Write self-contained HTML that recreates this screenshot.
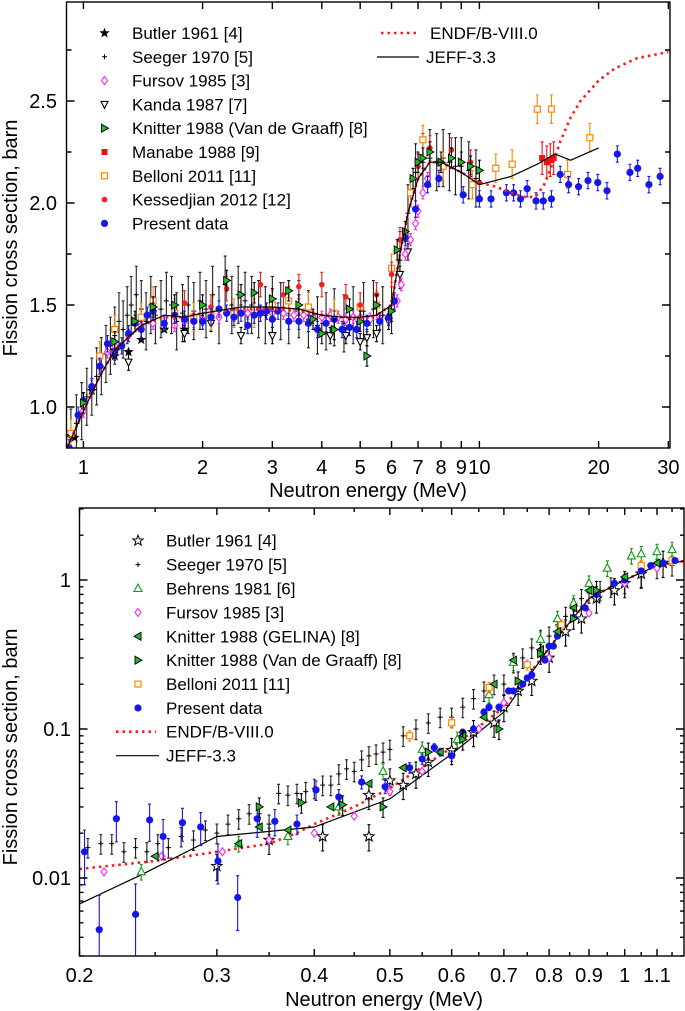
<!DOCTYPE html>
<html><head><meta charset="utf-8">
<style>
html,body{margin:0;padding:0;background:#fff;}
svg{display:block;font-family:"Liberation Sans",sans-serif;}
</style></head>
<body>
<svg id="chart" width="685" height="1011" viewBox="0 0 685 1011" xmlns="http://www.w3.org/2000/svg">
<defs>
<clipPath id="clipTop"><rect x="66.5" y="2" width="603.5" height="446"/></clipPath>
<clipPath id="clipBot"><rect x="79.5" y="508" width="604.5" height="448"/></clipPath>
</defs>
<g id="topPanel"></g>
<g id="botPanel"></g>
</svg>
<script>
// ===== TOP PANEL DATA (E in MeV, sigma in barn) =====
const topXTicks = [1,2,3,4,5,6,7,8,9,10,20,30];
const topXTickLabels = ["1","2","3","4","5","6","7","8","9","10","20","30"];
const topYTicks = [1.0,1.5,2.0,2.5];
const topYTickLabels = ["1.0","1.5","2.0","2.5"];
const topYMinor = [1.25,1.75,2.25,2.75];

const tPresentE = [0.92,0.97,1.0,1.05,1.1,1.15,1.2,1.25,1.3,1.35,1.4,1.45,1.5,1.6,1.7,1.8,1.9,2.0,2.1,2.2,2.3,2.4,2.5,2.6,2.7,2.8,2.9,3.0,3.1,3.3,3.5,3.7,3.9,4.1,4.3,4.5,4.7,4.9,5.2,5.6,5.9,6.1,6.5,6.9,7.4,7.9,9.1,10.0,10.7,11.7,12.2,12.7,13.2,13.9,14.5,15.2,16.0,16.8,17.8,18.8,19.9,21.0,22.3,24.0,25.1,26.8,28.6];
const tPresentS = [0.80,0.96,1.03,1.10,1.20,1.31,1.27,1.30,1.36,1.41,1.38,1.45,1.47,1.41,1.45,1.43,1.42,1.42,1.44,1.48,1.46,1.44,1.46,1.40,1.45,1.46,1.47,1.43,1.47,1.42,1.42,1.41,1.38,1.41,1.43,1.38,1.39,1.38,1.41,1.42,1.44,1.52,1.83,1.97,2.09,2.12,2.04,2.02,2.02,2.05,2.05,2.02,2.07,2.01,2.01,2.02,2.14,2.09,2.08,2.11,2.10,2.06,2.24,2.15,2.17,2.09,2.13];
const tPresentErr = 0.04;

const tKessE = [1.8,2.1,2.3,2.8,3.2,3.5,4.0,4.6,5.0,5.5,6.0,6.3,7.0,7.5,8.5,9.5,10.0];
const tKessS = [1.51,1.49,1.58,1.60,1.55,1.59,1.60,1.54,1.50,1.55,1.65,1.82,2.18,2.27,2.26,2.20,2.10];
const tKessErr = 0.06;

const tManabeE = [14.4,14.8,15.1,15.4];
const tManabeS = [2.22,2.20,2.21,2.22];
const tManabeErr = 0.08;

const tBelloniE = [0.93,1.1,1.2,1.4,1.5,1.7,1.9,2.1,2.4,2.7,3.0,3.3,3.7,4.3,5.0,5.5,6.0,6.7,7.2,8.1,9.6,11.0,12.1,14.0,15.2,16.7,19.0];
const tBelloniS = [0.87,1.25,1.38,1.44,1.52,1.46,1.44,1.45,1.46,1.46,1.50,1.52,1.49,1.46,1.49,1.50,1.68,2.05,2.31,2.18,2.09,2.17,2.19,2.46,2.46,2.14,2.32];
const tBelloniErr = 0.07;

const tFursovE = [1.0,1.05,1.1,1.15,1.2,1.3,1.4,1.5,1.6,1.7,1.8,1.9,2.0,2.2,2.4,2.6,2.8,3.0,3.2,3.4,3.6,3.8,4.0,4.2,4.4,4.6,4.8,5.0,5.3,5.6,5.9,6.2,6.35,6.5,6.7,6.9,7.0,7.2,7.4];
const tFursovS = [0.98,1.10,1.20,1.27,1.30,1.35,1.40,1.41,1.41,1.40,1.42,1.42,1.43,1.44,1.45,1.46,1.47,1.46,1.46,1.45,1.45,1.44,1.44,1.45,1.44,1.43,1.44,1.44,1.43,1.43,1.44,1.52,1.60,1.75,1.82,1.90,1.96,2.05,2.12];
const tFursovErr = 0.03;

const tKandaE = [1.2,1.3,1.8,2.1,2.5,3.0,4.2,4.6,5.0,5.2,5.5,5.9,6.3,6.6];
const tKandaS = [1.27,1.22,1.36,1.41,1.35,1.35,1.35,1.35,1.32,1.34,1.36,1.42,1.65,1.76];
const tKandaErr = 0.04;

const tKnitE = [0.9,1.0,1.2,1.35,1.5,1.7,2.0,2.3,2.5,2.7,3.0,3.3,3.5,3.8,4.0,4.3,4.7,5.0,5.2,5.5,6.0,6.2,6.5,6.8,7.0,7.2,7.5,8.0,8.5,9.0,9.5,10.0];
const tKnitS = [0.86,1.02,1.32,1.42,1.49,1.50,1.50,1.62,1.55,1.56,1.53,1.57,1.50,1.43,1.36,1.38,1.48,1.42,1.25,1.50,1.47,1.77,1.86,2.12,2.20,2.22,2.25,2.20,2.22,2.20,2.18,2.16];
const tKnitErr = 0.05;

const tButlerE = [0.95,1.05,1.2,1.3,1.4,1.6,1.8];
const tButlerS = [0.85,1.08,1.25,1.27,1.33,1.38,1.38];

const tSeegerE = [0.93,0.96,0.99,1.02,1.05,1.08,1.11,1.14,1.17,1.2,1.23,1.26,1.29,1.32,1.36,1.4,1.44,1.48,1.52,1.57,1.62,1.67,1.72,1.78,1.84,1.9,1.97,2.04,2.12,2.2,2.28,2.37,2.46,2.56,2.66,2.77,2.88,3.0,3.15,3.3,3.5,3.7,3.9,4.1,4.3,4.55,4.8,5.1,5.4,5.7,6.0,6.3,6.6,6.9,7.2,7.5,7.8,8.1,8.4,8.7,9.0,9.4,9.8];
const tSeegerS = [0.85,0.92,0.98,1.05,1.10,1.15,1.20,1.26,1.30,1.35,1.42,1.38,1.45,1.50,1.55,1.48,1.42,1.50,1.45,1.48,1.52,1.50,1.42,1.46,1.50,1.47,1.52,1.48,1.55,1.45,1.60,1.50,1.55,1.52,1.50,1.48,1.45,1.50,1.47,1.45,1.48,1.43,1.40,1.42,1.44,1.41,1.45,1.47,1.48,1.45,1.50,1.72,1.95,2.15,2.20,2.22,2.20,2.22,2.20,2.18,2.18,2.16,2.12];
const tSeegerErr = 0.14;

const tJeffE = [0.9,1.0,1.1,1.2,1.4,1.6,1.8,2.0,2.5,3.0,3.5,4.0,4.5,5.0,5.5,6.0,6.3,6.6,7.0,7.5,8.0,9.0,10.0,12.0,14.0,15.5,17.0,20.0];
const tJeffS = [0.78,0.98,1.15,1.28,1.40,1.45,1.44,1.46,1.49,1.49,1.48,1.45,1.44,1.44,1.45,1.50,1.75,1.95,2.12,2.20,2.20,2.15,2.09,2.13,2.19,2.24,2.21,2.27];
const tEndfE = [0.9,1.0,1.1,1.2,1.4,1.6,1.8,2.0,2.5,3.0,3.5,4.0,4.5,5.0,5.5,6.0,6.3,6.6,7.0,7.5,8.0,9.0,10.0,11.0,12.0,13.0,13.8,14.5,15.0,15.5,16.0,17.0,18.0,20.0,22.0,25.0,30.0];
const tEndfS = [0.78,0.98,1.15,1.28,1.40,1.44,1.44,1.46,1.48,1.48,1.47,1.45,1.44,1.43,1.45,1.50,1.75,1.95,2.12,2.20,2.20,2.15,2.10,2.08,2.05,2.03,2.03,2.08,2.15,2.22,2.30,2.42,2.50,2.60,2.66,2.71,2.74];

// ===== BOTTOM PANEL DATA =====
const botXTicks = [0.2,0.3,0.4,0.5,0.6,0.7,0.8,0.9,1.0,1.1];
const botXTickLabels = ["0.2","0.3","0.4","0.5","0.6","0.7","0.8","0.9","1","1.1"];
const botXMinor = [0.25,0.35,0.45,0.55,0.65,0.75,0.85,0.95,1.05,1.15];
const botYTicks = [0.01,0.1,1];
const botYTickLabels = ["0.01","0.1","1"];

const bPresentE = [0.203,0.212,0.223,0.236,0.246,0.256,0.271,0.286,0.301,0.319,0.338,0.356,0.38,0.402,0.43,0.46,0.493,0.53,0.55,0.57,0.58,0.6,0.62,0.64,0.66,0.67,0.69,0.71,0.72,0.74,0.75,0.76,0.79,0.8,0.81,0.82,0.86,0.89,0.92,0.97,1.0,1.05,1.08,1.12,1.16];
const bPresentS = [0.015,0.0045,0.025,0.0057,0.0245,0.019,0.0235,0.022,0.013,0.0074,0.025,0.024,0.023,0.039,0.035,0.044,0.041,0.055,0.063,0.075,0.07,0.066,0.095,0.1,0.13,0.14,0.14,0.18,0.18,0.2,0.22,0.23,0.29,0.36,0.36,0.42,0.56,0.65,0.8,0.95,1.0,1.15,1.25,1.3,1.35];
const bPresentRelErr = [0.4,0.7,0.3,0.6,0.28,0.3,0.25,0.25,0.3,0.4,0.25,0.2,0.15,0.15,0.12,0.1,0.1,0.08,0.08,0.06,0.06,0.08,0.05,0.05,0.05,0.05,0.05,0.04,0.04,0.04,0.04,0.04,0.04,0.03,0.03,0.03,0.03,0.03,0.03,0.03,0.03,0.03,0.03,0.03,0.03];

const bSeegerE = [0.205,0.213,0.22,0.228,0.236,0.244,0.252,0.26,0.27,0.28,0.29,0.3,0.31,0.32,0.33,0.34,0.35,0.36,0.37,0.38,0.39,0.4,0.41,0.42,0.43,0.44,0.45,0.46,0.47,0.48,0.49,0.5,0.52,0.54,0.56,0.58,0.6,0.62,0.64,0.66,0.68,0.7,0.72,0.74,0.76,0.78,0.8,0.82,0.84,0.86,0.88,0.9,0.93,0.96,1.0,1.05,1.1,1.15];
const bSeegerS = [0.016,0.017,0.017,0.015,0.016,0.015,0.017,0.016,0.019,0.018,0.021,0.02,0.023,0.025,0.027,0.027,0.023,0.037,0.036,0.037,0.038,0.04,0.042,0.042,0.05,0.054,0.052,0.062,0.066,0.068,0.07,0.073,0.09,0.1,0.11,0.12,0.12,0.14,0.16,0.18,0.2,0.2,0.28,0.3,0.35,0.4,0.42,0.5,0.57,0.65,0.75,0.82,0.85,0.9,0.95,1.05,1.2,1.25];
const bSeegerRelErr = 0.15;

const bButlerE = [0.3,0.35,0.41,0.47,0.47,0.5,0.52,0.54,0.56,0.6,0.64,0.68,0.7,0.73,0.76,0.8,0.84,0.88,0.92,0.97,1.0,1.05,1.12];
const bButlerS = [0.012,0.018,0.019,0.019,0.036,0.045,0.042,0.05,0.06,0.072,0.095,0.11,0.14,0.18,0.21,0.3,0.45,0.55,0.75,0.85,0.95,1.1,1.3];
const bButlerRelErr = 0.2;

const bBehrensE = [0.24,0.32,0.37,0.43,0.49,0.55,0.61,0.67,0.72,0.78,0.82,0.86,0.9,0.95,1.02,1.05,1.1,1.15];
const bBehrensS = [0.011,0.017,0.019,0.03,0.052,0.073,0.085,0.17,0.28,0.4,0.55,0.7,0.95,1.2,1.45,1.5,1.55,1.6];
const bBehrensRelErr = 0.12;

const bFursovE = [0.215,0.255,0.305,0.35,0.4,0.45,0.5,0.55,0.65,0.7,0.8,0.9,1.0,1.1];
const bFursovS = [0.011,0.014,0.015,0.018,0.02,0.026,0.038,0.052,0.1,0.15,0.3,0.6,0.95,1.2];

const bGelinaE = [0.25,0.32,0.34,0.37,0.42,0.47,0.52,0.58,0.62,0.66,0.68,0.72,0.78,0.82,0.86,0.9,1.0,1.1];
const bGelinaS = [0.014,0.017,0.022,0.021,0.03,0.043,0.055,0.07,0.09,0.12,0.2,0.29,0.34,0.45,0.65,0.85,1.05,1.3];

const bKnitVdgE = [0.34,0.385,0.435,0.49,0.56,0.62,0.69,0.73,0.78,0.86,0.92];
const bKnitVdgS = [0.03,0.032,0.031,0.03,0.07,0.085,0.1,0.21,0.32,0.55,0.85];
const bKnitVdgRelErr = 0.15;

const bBelloniE = [0.53,0.6,0.67,0.75,0.83,1.05,1.15];
const bBelloniS = [0.09,0.11,0.19,0.27,0.5,1.25,1.35];

const bJeffE = [0.2,0.24,0.3,0.4,0.5,0.6,0.7,0.8,0.9,1.0,1.1,1.2];
const bJeffS = [0.0067,0.0105,0.019,0.022,0.034,0.068,0.13,0.35,0.75,1.0,1.25,1.35];
const bEndfE = [0.2,0.25,0.3,0.35,0.38,0.4,0.45,0.5,0.6,0.7,0.8,0.9,1.0,1.1,1.2];
const bEndfS = [0.0115,0.013,0.015,0.017,0.02,0.023,0.03,0.04,0.075,0.14,0.35,0.75,1.0,1.25,1.35];

// ===== scales =====
const tX = e => 83.4 + 396 * Math.log10(e);
const tY = v => 407 - (v - 1) * 204;
const bX = e => 79.5 + 780 * Math.log10(e / 0.2);
const bY = v => 878 - 149 * Math.log10(v / 0.01);

const NS = "http://www.w3.org/2000/svg";
function mk(tag, attrs, parent) {
  const el = document.createElementNS(NS, tag);
  for (const k in attrs) el.setAttribute(k, attrs[k]);
  parent.appendChild(el);
  return el;
}

function marker(parent, type, cx, cy, color) {
  let el;
  const s = 4;
  if (type === 'circle') el = mk('circle', {cx, cy, r: 3.6, fill: color}, parent);
  else if (type === 'smallcircle') el = mk('circle', {cx, cy, r: 2.8, fill: color}, parent);
  else if (type === 'square') el = mk('rect', {x: cx - 3, y: cy - 3, width: 6, height: 6, fill: color}, parent);
  else if (type === 'osquare') el = mk('rect', {x: cx - 3, y: cy - 3, width: 6, height: 6, fill: '#fff', stroke: color, 'stroke-width': 1.2}, parent);
  else if (type === 'diamond') el = mk('polygon', {points: `${cx},${cy - s} ${cx + 3},${cy} ${cx},${cy + s} ${cx - 3},${cy}`, fill: '#fff', stroke: color, 'stroke-width': 1.1}, parent);
  else if (type === 'tdown') el = mk('polygon', {points: `${cx - 3.5},${cy - 3} ${cx + 3.5},${cy - 3} ${cx},${cy + 4}`, fill: '#fff', stroke: color, 'stroke-width': 1.1}, parent);
  else if (type === 'tup') el = mk('polygon', {points: `${cx - 4},${cy + 3} ${cx + 4},${cy + 3} ${cx},${cy - 4.5}`, fill: '#fff', stroke: color, 'stroke-width': 1.1}, parent);
  else if (type === 'tright') el = mk('polygon', {points: `${cx - 3},${cy - 4} ${cx - 3},${cy + 4} ${cx + 4},${cy}`, fill: '#22bb22', stroke: '#000', 'stroke-width': 0.9}, parent);
  else if (type === 'tleft') el = mk('polygon', {points: `${cx + 3},${cy - 4} ${cx + 3},${cy + 4} ${cx - 4},${cy}`, fill: '#22bb22', stroke: '#000', 'stroke-width': 0.9}, parent);
  else if (type === 'plus') el = mk('path', {d: `M${cx - 2.5},${cy}H${cx + 2.5}M${cx},${cy - 2.5}V${cy + 2.5}`, stroke: color, 'stroke-width': 1}, parent);
  else {
    let pts = [];
    const R = type === 'star' ? 4 : 5.5, r = R * 0.42;
    for (let i = 0; i < 10; i++) {
      const a = -Math.PI / 2 + i * Math.PI / 5, rr = i % 2 ? r : R;
      pts.push((cx + rr * Math.cos(a)).toFixed(2) + ',' + (cy + rr * Math.sin(a)).toFixed(2));
    }
    el = mk('polygon', {points: pts.join(' '), fill: type === 'star' ? color : '#fff', stroke: color, 'stroke-width': 1}, parent);
  }
  return el;
}

function series(parent, name, xs, ys, X, Y, type, color, errAbs, errRel, errColor) {
  const g = mk('g', {}, parent);
  
  
  for (let i = 0; i < xs.length; i++) {
    const cx = X(xs[i]), cy = Y(ys[i]);
    let lo = null, hi = null;
    if (errAbs != null) { lo = Y(ys[i] - errAbs); hi = Y(ys[i] + errAbs); }
    if (errRel != null) {
      const r = Array.isArray(errRel) ? errRel[i] : errRel;
      lo = Y(Math.max(ys[i] * (1 - r), 1e-4)); hi = Y(ys[i] * (1 + r));
    }
    if (lo != null) {
      const eb = mk('path', {d: `M${cx},${lo}V${hi}M${cx - 1.5},${lo}H${cx + 1.5}M${cx - 1.5},${hi}H${cx + 1.5}`, stroke: errColor || color, 'stroke-width': 1.1, fill: 'none'}, g);
      
      
    }
    const m = marker(g, type, cx, cy, color);
    
    
  }
}

function curve(parent, name, xs, ys, X, Y, dotted) {
  const d = xs.map((e, i) => (i ? 'L' : 'M') + X(e).toFixed(1) + ',' + Y(ys[i]).toFixed(1)).join('');
  const p = mk('path', {d, fill: 'none', stroke: dotted ? '#ff1a1a' : '#000', 'stroke-width': dotted ? 2.6 : 1.2, 'stroke-dasharray': dotted ? '2.5,4' : 'none'}, parent);
  
  
}

function text(parent, name, x, y, s, size, anchor, extra) {
  const t = mk('text', Object.assign({x, y, 'font-size': size, 'text-anchor': anchor || 'start', fill: '#000'}, extra || {}), parent);
  t.textContent = s;
  
  
  return t;
}

// ===== TOP PANEL =====
const topG = document.getElementById('topPanel');
const tL = 66.5, tR = 670, tT = 2, tB = 448;
const tPlot = mk('g', {'clip-path': 'url(#clipTop)'}, topG);


series(tPlot, 'series-seeger-1970', tSeegerE, tSeegerS, tX, tY, 'plus', '#000', tSeegerErr, null, '#222');
series(tPlot, 'series-butler-1961', tButlerE, tButlerS, tX, tY, 'star', '#000', null, null);
series(tPlot, 'series-kanda-1987', tKandaE, tKandaS, tX, tY, 'tdown', '#000', tKandaErr, null);
series(tPlot, 'series-fursov-1985', tFursovE, tFursovS, tX, tY, 'diamond', '#ff22ff', tFursovErr, null);
series(tPlot, 'series-belloni-2011', tBelloniE, tBelloniS, tX, tY, 'osquare', '#ff8800', tBelloniErr, null);
series(tPlot, 'series-kessedjian-2012', tKessE, tKessS, tX, tY, 'smallcircle', '#ee2222', tKessErr, null);
series(tPlot, 'series-manabe-1988', tManabeE, tManabeS, tX, tY, 'square', '#ee1111', tManabeErr, null);
series(tPlot, 'series-present-data', tPresentE, tPresentS, tX, tY, 'circle', '#1515ee', tPresentErr, null);
series(tPlot, 'series-knitter-1988-vdg', tKnitE, tKnitS, tX, tY, 'tright', '#000', tKnitErr, null);
curve(tPlot, 'endf-b-viii-curve', tEndfE, tEndfS, tX, tY, true);
curve(tPlot, 'jeff-3-3-curve', tJeffE, tJeffS, tX, tY, false);

const tAx = mk('g', {stroke: '#000', 'stroke-width': 1.4, fill: 'none'}, topG);


mk('rect', {x: tL, y: tT, width: tR - tL, height: tB - tT}, tAx);
topXTicks.forEach((e, i) => {
  const x = tX(e);
  mk('path', {d: `M${x},${tB}v-7M${x},${tT}v7`}, tAx);
  text(topG, 'x-tick-label', x, 474, topXTickLabels[i], 20, 'middle');
});
topYTicks.forEach((v, i) => {
  const y = tY(v);
  mk('path', {d: `M${tL},${y}h8M${tR},${y}h-8`}, tAx);
  text(topG, 'y-tick-label', 57, y + 7, topYTickLabels[i], 20, 'end');
});
topYMinor.forEach(v => {
  const y = tY(v);
  if (y > tT && y < tB) mk('path', {d: `M${tL},${y}h5M${tR},${y}h-5`}, tAx);
});
text(topG, 'x-axis-title', 368, 497, 'Neutron energy (MeV)', 20, 'middle');
text(topG, 'y-axis-title', 0, 0, 'Fission cross section, barn', 20, 'middle', {transform: 'translate(17,238) rotate(-90)'});

const tLeg = mk('g', {}, topG);


const tLegLabels = ["Butler 1961 [4]","Seeger 1970 [5]","Fursov 1985 [3]","Kanda 1987 [7]","Knitter 1988 (Van de Graaff) [8]","Manabe 1988 [9]","Belloni 2011 [11]","Kessedjian 2012 [12]","Present data"];
const tLegTypes = ['star','plus','diamond','tdown','tright','square','osquare','smallcircle','circle'];
const tLegColors = ['#000','#000','#ff22ff','#000','#000','#ee1111','#ff8800','#ee2222','#1515ee'];
tLegLabels.forEach((s, i) => {
  const y = 33 + i * 23.8;
  const m = marker(tLeg, tLegTypes[i], 104.5, y, tLegColors[i]);
  
  
  text(tLeg, 'legend-entry', 132, y + 6, s, 17, 'start');
});
mk('path', {d: 'M381,33H420', stroke: '#ff1a1a', 'stroke-width': 2.6, 'stroke-dasharray': '2.5,4'}, tLeg);
text(tLeg, 'legend-entry', 430, 39, 'ENDF/B-VIII.0', 17, 'start');
mk('path', {d: 'M377,57H419', stroke: '#000', 'stroke-width': 1.2}, tLeg);
text(tLeg, 'legend-entry', 426, 63, 'JEFF-3.3', 17, 'start');

// ===== BOTTOM PANEL =====
const botG = document.getElementById('botPanel');
const bL = 79.5, bR = 684, bT = 508, bB = 956;
const bPlot = mk('g', {'clip-path': 'url(#clipBot)'}, botG);


series(bPlot, 'series-seeger-1970', bSeegerE, bSeegerS, bX, bY, 'plus', '#000', null, bSeegerRelErr, '#222');
curve(bPlot, 'endf-b-viii-curve', bEndfE, bEndfS, bX, bY, true);
curve(bPlot, 'jeff-3-3-curve', bJeffE, bJeffS, bX, bY, false);
series(bPlot, 'series-butler-1961', bButlerE, bButlerS, bX, bY, 'ostar', '#000', null, bButlerRelErr);
series(bPlot, 'series-behrens-1981', bBehrensE, bBehrensS, bX, bY, 'tup', '#119911', null, bBehrensRelErr);
series(bPlot, 'series-fursov-1985', bFursovE, bFursovS, bX, bY, 'diamond', '#ff22ff', null, null);
series(bPlot, 'series-belloni-2011', bBelloniE, bBelloniS, bX, bY, 'osquare', '#ff8800', null, 0.08);
series(bPlot, 'series-present-data', bPresentE, bPresentS, bX, bY, 'circle', '#1515ee', null, bPresentRelErr);
series(bPlot, 'series-knitter-1988-gelina', bGelinaE, bGelinaS, bX, bY, 'tleft', '#000', null, null);
series(bPlot, 'series-knitter-1988-vdg', bKnitVdgE, bKnitVdgS, bX, bY, 'tright', '#000', null, bKnitVdgRelErr);

const bAx = mk('g', {stroke: '#000', 'stroke-width': 1.4, fill: 'none'}, botG);


mk('rect', {x: bL, y: bT, width: bR - bL, height: bB - bT}, bAx);
botXTicks.forEach((e, i) => {
  const x = bX(e);
  mk('path', {d: `M${x},${bB}v-7M${x},${bT}v7`}, bAx);
  text(botG, 'x-tick-label', x, 982, botXTickLabels[i], 20, 'middle');
});
botXMinor.forEach(e => {
  const x = bX(e);
  if (x < bR) mk('path', {d: `M${x},${bB}v-4M${x},${bT}v4`}, bAx);
});
botYTicks.forEach((v, i) => {
  const y = bY(v);
  mk('path', {d: `M${bL},${y}h8M${bR},${y}h-8`}, bAx);
  text(botG, 'y-tick-label', 71, y + 7, botYTickLabels[i], 20, 'end');
});
[0.001,0.01,0.1,1].forEach(dec => {
  for (let k = 2; k <= 9; k++) {
    const y = bY(dec * k);
    if (y > bT && y < bB) mk('path', {d: `M${bL},${y}h4M${bR},${y}h-4`}, bAx);
  }
});
text(botG, 'x-axis-title', 384, 1006, 'Neutron energy (MeV)', 20, 'middle');
text(botG, 'y-axis-title', 0, 0, 'Fission cross section, barn', 20, 'middle', {transform: 'translate(17,747) rotate(-90)'});

const bLeg = mk('g', {}, botG);


const bLegLabels = ["Butler 1961 [4]","Seeger 1970 [5]","Behrens 1981 [6]","Fursov 1985 [3]","Knitter 1988 (GELINA) [8]","Knitter 1988 (Van de Graaff) [8]","Belloni 2011 [11]","Present data"];
const bLegTypes = ['ostar','plus','tup','diamond','tleft','tright','osquare','circle'];
const bLegColors = ['#000','#000','#119911','#ff22ff','#000','#000','#ff8800','#1515ee'];
bLegLabels.forEach((s, i) => {
  const y = 540.7 + i * 23.9;
  const m = marker(bLeg, bLegTypes[i], 138, y, bLegColors[i]);
  
  
  text(bLeg, 'legend-entry', 166, y + 6, s, 17, 'start');
});
mk('path', {d: 'M116,731.7H156', stroke: '#ff1a1a', 'stroke-width': 2.6, 'stroke-dasharray': '2.5,4'}, bLeg);
text(bLeg, 'legend-entry', 166, 737.7, 'ENDF/B-VIII.0', 17, 'start');
mk('path', {d: 'M116,755.7H159', stroke: '#000', 'stroke-width': 1.2}, bLeg);
text(bLeg, 'legend-entry', 166, 761.7, 'JEFF-3.3', 17, 'start');
</script>
</body></html>
